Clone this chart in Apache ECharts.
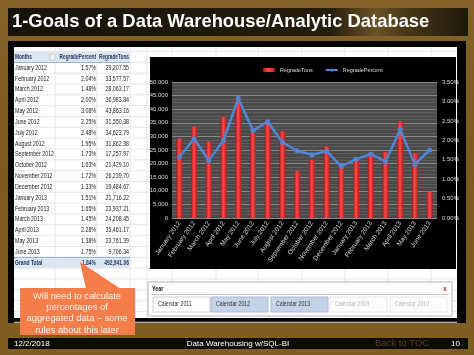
<!DOCTYPE html>
<html><head><meta charset="utf-8">
<script src="https://cdn.jsdelivr.net/npm/echarts@6/dist/echarts.min.js"></script>
<style>html,body{margin:0;padding:0;background:#7d5d1f}#c{width:474px;height:355px}</style>
</head><body><div id="c"></div>
<script>
const months = ['January 2012','February 2012','March 2012','April 2012','May 2012','June 2012','July 2012','August 2012','September 2012','October 2012','November 2012','December 2012','January 2013','February 2013','March 2013','April 2013','May 2013','June 2013'];
const regradePercent = [1.57,2.04,1.48,2.00,3.08,2.25,2.48,1.95,1.73,1.63,1.72,1.33,1.51,1.65,1.45,2.28,1.38,1.75];
const regradeTons = [29207.55,33577.57,28063.17,36983.84,43863.16,31550.38,34623.79,31862.38,17257.97,21429.10,26239.70,19484.67,21716.22,23937.21,24208.45,35461.17,23761.39,9706.34];
const grandTotal = {label:'Grand Total', percent:1.84, tons:492941.06};
const tonsTicks = {min:0, max:50000, interval:5000};
const pctTicks = {min:0, max:0.035, interval:0.005};
const slicerItems = ['Calendar 2011','Calendar 2012','Calendar 2013','Calendar 2009','Calendar 2010'];
const slicerState = ['plain','selected','selected','faded','faded'];
const titleText = '1-Goals of a Data Warehouse/Analytic Database';
const calloutLines = ['Will need to calculate','percentages of','aggregated data \u2013 some','rules about this later'];

const fmtNum = v => v.toLocaleString('en-US',{minimumFractionDigits:2,maximumFractionDigits:2});
const TF = "'Liberation Sans',Arial,sans-serif";
const els = [];
// narrow text helper (horizontally condensed)
function ntext(x,y,text,font,fill,align,sx,z){
  return {type:'text',x:x,y:y,scaleX:sx||0.8,z:z||0,style:{x:0,y:0,text:text,font:font,fill:fill,textAlign:align||'left',textVerticalAlign:'middle'}};
}
// title bar
els.push({type:'rect',z:-20,shape:{x:8,y:8,width:460,height:28},style:{fill:new echarts.graphic.LinearGradient(0,0,1,0,[{offset:0,color:'#17130a'},{offset:0.7,color:'#251d0c'},{offset:0.8,color:'#6b5226'},{offset:0.86,color:'#4a3918'},{offset:1,color:'#1e180b'}])}});
els.push({type:'text',z:50,style:{x:12,y:22,text:titleText,fill:'#ffffff',font:"bold 18.4px 'Liberation Sans',Arial,sans-serif",textVerticalAlign:'middle'}});
// black frame + white sheet
els.push({type:'rect',z:-20,shape:{x:8,y:41,width:458,height:282},style:{fill:'#050505'}});
els.push({type:'rect',z:-19,shape:{x:14,y:47,width:443,height:271},style:{fill:'#ffffff'}});
// excel grid lines
const cols=[55,97,130,147,172,216,258,302,345,388,431];
cols.forEach(x=>els.push({type:'line',z:-18,shape:{x1:x,y1:47,x2:x,y2:318},style:{stroke:'#e6e6e6',lineWidth:1}}));
for(let i=0;i<26;i++){const y=51.5+i*10.83;els.push({type:'line',z:-18,shape:{x1:14,y1:y,x2:457,y2:y},style:{stroke:'#e6e6e6',lineWidth:1}});}
// table header
els.push({type:'rect',z:-17,shape:{x:14,y:52,width:116,height:10},style:{fill:'#dce6f1'}});
els.push({type:'line',z:-16,shape:{x1:14,y1:62.5,x2:130,y2:62.5},style:{stroke:'#95b3d7',lineWidth:1}});
const hf="bold 6.6px "+TF, rf="6.6px "+TF;
els.push(ntext(15,57,'Months',hf,'#1f3864','left',0.72));
els.push({type:'rect',shape:{x:50,y:54,width:5,height:6},style:{fill:'#f2f2f2',stroke:'#aaa',lineWidth:0.5}});
els.push(ntext(96,57,'RegradePercent',hf,'#1f3864','right',0.72));
els.push(ntext(129,57,'RegradeTons',hf,'#1f3864','right',0.72));
months.forEach((m,i)=>{const y=68+i*10.83;
 els.push(ntext(15,y,m,rf,'#222','left',0.8));
 els.push(ntext(96,y,regradePercent[i].toFixed(2)+'%',rf,'#222','right',0.8));
 els.push(ntext(129,y,fmtNum(regradeTons[i]),rf,'#222','right',0.8));
});
const gy=68+18*10.83;
els.push({type:'rect',z:-16,shape:{x:14,y:gy-5,width:116,height:10},style:{fill:'#dce6f1'}});
els.push({type:'line',z:-15,shape:{x1:14,y1:gy-5.5,x2:130,y2:gy-5.5},style:{stroke:'#95b3d7',lineWidth:1}});
els.push(ntext(15,gy,grandTotal.label,hf,'#1f3864','left',0.75));
els.push(ntext(96,gy,grandTotal.percent.toFixed(2)+'%',hf,'#1f3864','right',0.75));
els.push(ntext(129,gy,fmtNum(grandTotal.tons),hf,'#1f3864','right',0.75));
// chart black area
els.push({type:'rect',z:-10,shape:{x:150,y:57,width:306,height:212},style:{fill:'#000000'}});
// slicer
els.push({type:'rect',z:-5,shape:{x:148,y:282,width:304,height:34},style:{fill:'#ffffff',stroke:'#b5b5b5',lineWidth:1}});
els.push(ntext(152,289,'Year',"bold 6.8px "+TF,'#222','left',0.8));
els.push({type:'line',shape:{x1:151,y1:294.5,x2:449,y2:294.5},style:{stroke:'#c8c8c8',lineWidth:1}});
els.push({type:'text',style:{x:445,y:289,text:'x',font:"bold 7px sans-serif",fill:'#d03030',textAlign:'center',textVerticalAlign:'middle'}});
const bx=[153,211,271,330,390];
slicerItems.forEach((s,i)=>{const st=slicerState[i];
 const fill=st==='selected'?'#c5d3e9':(st==='faded'?'#fcfcfc':'#ffffff');
 const stroke=st==='selected'?'#a6bad8':(st==='faded'?'#e6e6e6':'#cfcfcf');
 const tc=st==='faded'?'#b8b8b8':'#333';
 els.push({type:'rect',shape:{x:bx[i],y:297,width:57,height:15},style:{fill:fill,stroke:stroke,lineWidth:1}});
 els.push(ntext(bx[i]+5,304.5,s,"6.5px "+TF,tc,'left',0.8));
});
// callout
els.push({type:'polygon',z:100,shape:{points:[[80,262],[86,289],[121,289]]},style:{fill:'#f47d4a'}});
els.push({type:'rect',z:100,shape:{x:20,y:288,width:115,height:47},style:{fill:'#f47d4a'}});
calloutLines.forEach((t,i)=>els.push({type:'text',z:101,style:{x:77,y:296+i*11.4,text:t,font:"9.3px 'Liberation Sans',Arial,sans-serif",fill:'#fff5ee',textAlign:'center',textVerticalAlign:'middle'}}));
// footer
els.push({type:'rect',z:-20,shape:{x:8,y:338,width:460,height:11},style:{fill:'#0d0b06'}});
const ff="8px 'Liberation Sans',Arial,sans-serif";
els.push({type:'text',style:{x:14,y:343.5,text:'12/2/2018',font:ff,fill:'#ffffff',textVerticalAlign:'middle'}});
els.push({type:'text',style:{x:238,y:343.5,text:'Data Warehousing w/SQL-BI',font:ff,fill:'#ffffff',textAlign:'center',textVerticalAlign:'middle'}});
els.push({type:'text',style:{x:375,y:343.5,text:'Back to TOC',font:"9.5px 'Liberation Sans',Arial,sans-serif",fill:'#4e402a',textVerticalAlign:'middle'}});
els.push({type:'text',style:{x:460,y:343.5,text:'10',font:ff,fill:'#ffffff',textAlign:'right',textVerticalAlign:'middle'}});

const chart = echarts.init(document.getElementById('c'),null,{renderer:'canvas'});
chart.setOption({
 animation:false,
 backgroundColor:new echarts.graphic.LinearGradient(0,0,0,1,[{offset:0,color:'#84632a'},{offset:0.5,color:'#7a5a1d'},{offset:1,color:'#7e5e22'}]),
 graphic:{elements:els},
 legend:{left:258,top:62,itemWidth:12,itemHeight:4,itemGap:12,textStyle:{color:'#dddddd',fontSize:5.5,fontFamily:TF},data:['RegradeTons','RegradePercent']},
 grid:{left:172,right:37,top:82,bottom:137,show:true,backgroundColor:'#4a4a4a',borderWidth:0},
 xAxis:{type:'category',data:months,axisTick:{show:false},axisLine:{lineStyle:{color:'#888'}},
   axisLabel:{interval:0,rotate:55,color:'#dddddd',fontSize:6.5,fontFamily:TF,margin:4}},
 yAxis:[
  {type:'value',min:tonsTicks.min,max:tonsTicks.max,interval:tonsTicks.interval,
   axisLabel:{color:'#dddddd',fontSize:6,fontFamily:TF,margin:4,formatter:v=>v.toLocaleString('en-US')},
   axisLine:{show:false},axisTick:{show:false},
   splitLine:{lineStyle:{color:'#8a8a8a',width:1}},
   minorTick:{show:false,splitNumber:4},minorSplitLine:{show:true,lineStyle:{color:'#5e5e5e',width:1}}},
  {type:'value',min:pctTicks.min,max:pctTicks.max,interval:pctTicks.interval,position:'right',
   axisLabel:{color:'#dddddd',fontSize:6,fontFamily:TF,margin:5,formatter:v=>(v*100).toFixed(2)+'%'},
   axisLine:{show:false},axisTick:{show:false},splitLine:{show:false}}
 ],
 series:[
  {name:'RegradeTons',type:'bar',data:regradeTons,barWidth:6,yAxisIndex:0,
   itemStyle:{color:new echarts.graphic.LinearGradient(0,0,1,0,[{offset:0,color:'#a81616'},{offset:0.45,color:'#ff4a4a'},{offset:1,color:'#b81c1c'}])}},
  {name:'RegradePercent',type:'line',data:regradePercent.map(p=>p/100),yAxisIndex:1,
   symbol:'circle',symbolSize:5,lineStyle:{color:'#4f86d6',width:2.5},itemStyle:{color:'#4f86d6'}}
 ]
});
</script></body></html>
